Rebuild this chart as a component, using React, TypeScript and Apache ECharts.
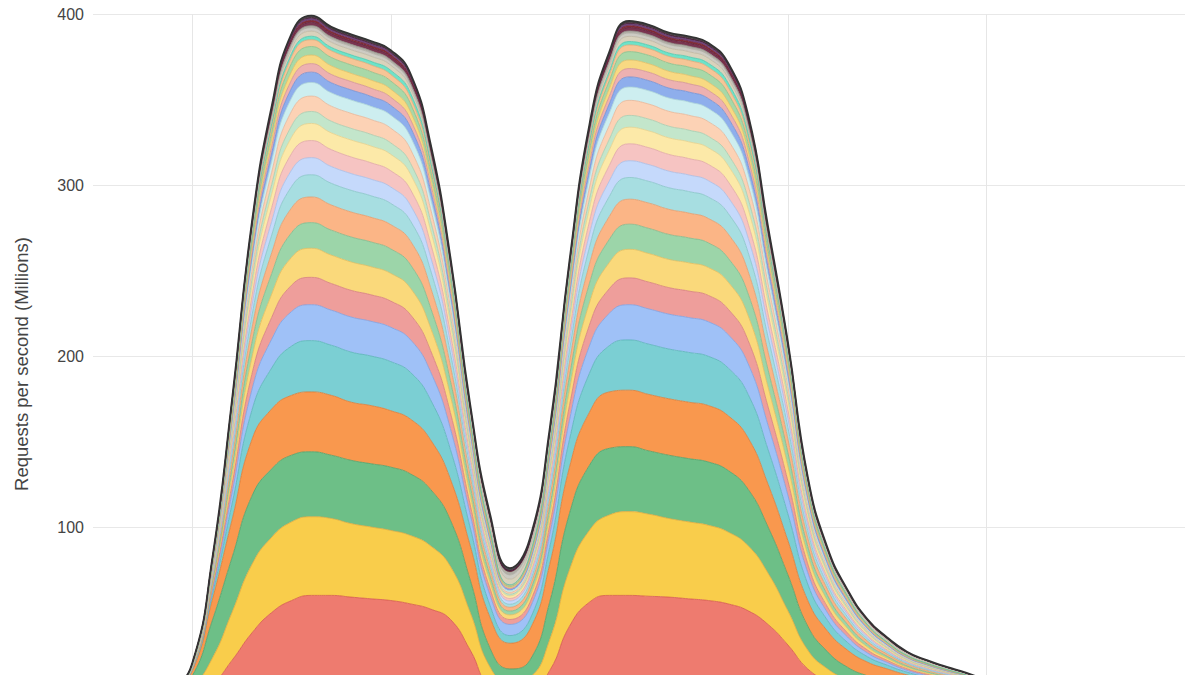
import React, { useEffect, useRef } from "react";
import * as echarts from "echarts";

// x positions (axis units; one unit = distance between vertical grid lines)
const XS = [
  -0.2, -0.1, 0, 0.1, 0.2, 0.3, 0.4, 0.5, 0.6, 0.7,
  0.8, 0.9, 1.0, 1.1, 1.2, 1.3, 1.4, 1.5, 1.6, 1.7,
  1.8, 1.9, 2.0, 2.1, 2.2, 2.3, 2.4, 2.5, 2.6, 2.7,
  2.8, 2.9, 3.0, 3.1, 3.2, 3.3, 3.4, 3.5, 3.6, 3.7,
  3.8, 3.9, 4.0, 4.1, 4.2, 4.3, 4.4,
];
// full category extent of the x axis (left edge to right edge)
const X_START = -0.5;
const X_END = 5.0;
const X_STEP = 0.1;
const X_GRID = [0, 1, 2, 3, 4];

const Y_TICKS = [0, 100, 200, 300, 400];
const Y_NAME = "Requests per second (Millions)";

// series values, bottom of the stack first (millions of requests per second)
const red = [
  0, 0.5, 2, 8, 22, 38, 50, 57, 60, 60,
  59, 58, 57, 55, 52, 46, 28, 7, 4, 4,
  16, 42, 56, 60, 60, 59.5, 59, 58, 57, 55,
  51, 43, 31, 17, 10, 6, 4.5, 3.5, 2.5, 2,
  1.5, 1, 0.7, 0.3, 0.1, 0, 0,
];
const yellow = [
  0, 1, 5, 15, 28, 40, 44, 46, 46, 45,
  43, 42, 41, 40, 37, 31, 22, 11, 5, 8,
  18, 33, 42, 47, 49, 48, 46, 45, 44, 42,
  38, 30, 20, 11, 7, 5, 3.5, 2.5, 2, 1.5,
  1.2, 1, 0.7, 0.3, 0.1, 0, 0,
];
const green = [
  0, 1.5, 6, 22, 32, 40, 40, 39, 38, 37,
  37, 37, 37, 36, 33, 27, 19, 11, 8, 10,
  22, 33, 38, 39, 38, 37, 37, 37, 37, 36,
  33, 27, 21, 14, 10, 7, 5, 4, 3, 2.5,
  2, 1.5, 1, 0.5, 0.2, 0, 0,
];
const orange = [
  0, 1, 3, 12, 22, 33, 35, 35, 35, 35,
  34, 34, 33, 32, 29, 24, 20, 18, 15, 18,
  22, 27, 31, 33, 33, 33, 33, 33, 33, 32,
  30, 25, 20, 15, 12, 10, 8, 7, 6, 5,
  4.5, 4, 3, 1.5, 0.6, 0.1, 0,
];
const teal = [
  0.1, 0.1, 0.5, 3, 9.3, 17.1, 24, 28.8, 30, 29.3,
  29.3, 29, 28.7, 27.3, 23.4, 17.4, 10.5, 7, 4.5, 5.8,
  10, 16.2, 22.8, 27, 29.4, 29.4, 29.1, 29.1, 28.8, 27.9,
  25.5, 20.3, 15.6, 9.6, 6.3, 4.5, 3.2, 2.2, 1.6, 1.3,
  1.1, 0.8, 0.5, 0.3, 0.1, 0, 0,
];
const blue = [
  0, 0.1, 0.3, 2.1, 6.5, 12, 16.8, 20.2, 21, 20.5,
  20.5, 20.3, 20.1, 19.1, 16.4, 12.2, 7.8, 6, 6.5, 6.5,
  7.5, 11.3, 16, 18.9, 20.6, 20.6, 20.4, 20.4, 20.2, 19.5,
  17.9, 14.2, 10.9, 6.7, 4.4, 3.2, 2.2, 1.6, 1.1, 0.9,
  0.7, 0.6, 0.4, 0.2, 0.1, 0, 0,
];
const salmon = [
  0, 0.1, 0.2, 1.6, 5, 9.1, 12.8, 15.4, 16, 15.6,
  15.6, 15.5, 15.3, 14.6, 12.5, 9.3, 5.6, 3.8, 2.9, 3.4,
  5.4, 8.6, 12.2, 14.4, 15.7, 15.7, 15.5, 15.5, 15.4, 14.9,
  13.6, 10.8, 8.3, 5.1, 3.4, 2.4, 1.7, 1.2, 0.9, 0.7,
  0.6, 0.4, 0.3, 0.1, 0.1, 0, 0,
];
const yellow2 = [
  0, 0.1, 0.3, 1.7, 5.3, 9.7, 13.6, 16.3, 17, 16.6,
  16.6, 16.4, 16.2, 15.5, 13.3, 9.9, 6, 4.1, 2.7, 3.4,
  5.7, 9.2, 12.9, 15.3, 16.7, 16.7, 16.5, 16.5, 16.3, 15.8,
  14.5, 11.5, 8.8, 5.4, 3.6, 2.6, 1.8, 1.3, 0.9, 0.7,
  0.6, 0.5, 0.3, 0.2, 0.1, 0, 0,
];
const green2 = [
  0, 0.1, 0.2, 1.5, 4.7, 8.6, 12, 14.4, 15, 14.6,
  14.6, 14.5, 14.3, 13.7, 11.7, 8.7, 5.3, 3.6, 2.2, 3,
  5, 8.1, 11.4, 13.5, 14.7, 14.7, 14.6, 14.6, 14.4, 14,
  12.8, 10.1, 7.8, 4.8, 3.2, 2.3, 1.6, 1.1, 0.8, 0.7,
  0.5, 0.4, 0.3, 0.1, 0.1, 0, 0,
];
const orange2 = [
  0, 0.1, 0.2, 1.4, 4.5, 8.4, 12.1, 14.5, 15, 14.7,
  14.6, 14.4, 14.2, 13.8, 11.9, 8.8, 5.4, 3.7, 2.2, 2.9,
  4.9, 8, 11.2, 13.4, 14.6, 14.8, 14.7, 14.5, 14.3, 14.1,
  13, 10.4, 8, 5, 3.4, 2.5, 1.8, 1.3, 1, 0.8,
  0.6, 0.5, 0.3, 0.2, 0.1, 0, 0,
];
const teal2 = [
  0, 0.1, 0.2, 1.3, 4, 7.4, 10.4, 12.5, 13, 12.7,
  12.7, 12.6, 12.4, 11.8, 10.1, 7.5, 4.6, 3.1, 1.8, 2.5,
  4.4, 7, 9.9, 11.7, 12.7, 12.7, 12.6, 12.6, 12.5, 12.1,
  11.1, 8.8, 6.8, 4.2, 2.7, 2, 1.4, 1, 0.7, 0.6,
  0.5, 0.4, 0.2, 0.1, 0.1, 0, 0,
];
const lightBlue = [
  0, 0, 0.2, 1, 3.1, 5.7, 8, 9.6, 10, 9.8,
  9.8, 9.7, 9.6, 9.1, 7.8, 5.8, 3.5, 2.4, 1.9, 2.1,
  3.4, 5.4, 7.6, 9, 9.8, 9.8, 9.7, 9.7, 9.6, 9.3,
  8.5, 6.8, 5.2, 3.2, 2.1, 1.5, 1.1, 0.7, 0.5, 0.4,
  0.4, 0.3, 0.2, 0.1, 0, 0, 0,
];
const pink = [
  0, 0, 0.2, 1, 3, 5.6, 8.1, 9.7, 10, 9.9,
  9.7, 9.6, 9.5, 9.2, 7.9, 5.9, 3.6, 2.4, 1.5, 2,
  3.3, 5.3, 7.5, 9.1, 9.9, 9.9, 9.8, 9.6, 9.5, 9.2,
  8.4, 6.7, 5.1, 3.1, 2, 1.4, 1, 0.7, 0.5, 0.4,
  0.3, 0.3, 0.2, 0.1, 0, 0, 0,
];
const lightYellow = [
  0, 0, 0.2, 1.1, 3.2, 5.8, 7.9, 9.5, 10, 9.8,
  9.9, 9.8, 9.6, 9, 7.7, 5.7, 3.5, 2.3, 1.5, 2.1,
  3.4, 5.5, 7.7, 9, 9.7, 9.8, 9.7, 9.8, 9.7, 9.4,
  8.6, 6.9, 5.3, 3.3, 2.2, 1.5, 1.1, 0.8, 0.6, 0.5,
  0.4, 0.3, 0.2, 0.1, 0, 0, 0,
];
const lightGreen = [
  0, 0, 0.1, 0.7, 2.2, 4, 5.6, 6.7, 7, 6.8,
  6.8, 6.8, 6.7, 6.4, 5.5, 4.1, 2.5, 1.7, 1, 1.4,
  2.3, 3.8, 5.3, 6.3, 6.9, 6.9, 6.8, 6.8, 6.7, 6.5,
  6, 4.7, 3.6, 2.2, 1.5, 1.1, 0.7, 0.5, 0.4, 0.3,
  0.2, 0.2, 0.1, 0.1, 0, 0, 0,
];
const lightPeach = [
  0, 0, 0.1, 0.9, 2.8, 5.1, 7.2, 8.6, 9, 8.8,
  8.8, 8.7, 8.6, 8.2, 7, 5.2, 3.2, 2.2, 1.1, 1.7,
  3, 4.9, 6.8, 8.1, 8.8, 8.8, 8.7, 8.7, 8.6, 8.4,
  7.7, 6.1, 4.7, 2.9, 1.9, 1.4, 0.9, 0.7, 0.5, 0.4,
  0.3, 0.3, 0.2, 0.1, 0, 0, 0,
];
const lightCyan = [
  0, 0, 0.1, 0.8, 2.5, 4.6, 6.4, 7.7, 8, 7.8,
  7.8, 7.7, 7.6, 7.3, 6.2, 4.6, 2.8, 1.9, 1, 1.5,
  2.7, 4.3, 6.1, 7.2, 7.8, 7.8, 7.8, 7.8, 7.7, 7.4,
  6.8, 5.4, 4.2, 2.6, 1.7, 1.2, 0.8, 0.6, 0.4, 0.4,
  0.3, 0.2, 0.1, 0.1, 0, 0, 0,
];
const midBlue = [
  0, 0, 0.1, 0.6, 1.9, 3.4, 4.8, 5.8, 6, 5.9,
  5.9, 5.8, 5.7, 5.5, 4.7, 3.5, 2.1, 1.4, 0.8, 1.2,
  2, 3.2, 4.6, 5.4, 5.9, 5.9, 5.8, 5.8, 5.8, 5.6,
  5.1, 4.1, 3.1, 1.9, 1.3, 0.9, 0.6, 0.4, 0.3, 0.3,
  0.2, 0.2, 0.1, 0.1, 0, 0, 0,
];
const pink2 = [
  0, 0, 0.1, 0.5, 1.6, 2.9, 4, 4.8, 5, 4.9,
  4.9, 4.8, 4.8, 4.6, 3.9, 2.9, 1.8, 1.2, 0.6, 1,
  1.7, 2.7, 3.8, 4.5, 4.9, 4.9, 4.9, 4.9, 4.8, 4.7,
  4.3, 3.4, 2.6, 1.6, 1.1, 0.8, 0.5, 0.4, 0.3, 0.2,
  0.2, 0.1, 0.1, 0, 0, 0, 0,
];
const yellow3 = [
  0, 0, 0.1, 0.5, 1.5, 2.8, 4.1, 4.9, 5, 5,
  4.8, 4.8, 4.7, 4.5, 3.8, 2.8, 1.7, 1.2, 0.6, 0.9,
  1.6, 2.6, 3.7, 4.5, 5, 5, 4.9, 4.8, 4.8, 4.6,
  4.2, 3.3, 2.5, 1.5, 1, 0.7, 0.5, 0.4, 0.3, 0.2,
  0.2, 0.1, 0.1, 0, 0, 0, 0,
];
const green3 = [
  0, 0, 0.1, 0.5, 1.6, 3, 4.1, 4.8, 5, 4.9,
  4.9, 4.9, 4.8, 4.7, 4, 3, 1.8, 1.3, 0.6, 1,
  1.8, 2.8, 3.9, 4.6, 4.9, 4.9, 4.8, 4.9, 4.9, 4.8,
  4.4, 3.5, 2.7, 1.7, 1.1, 0.8, 0.6, 0.4, 0.3, 0.2,
  0.2, 0.1, 0.1, 0, 0, 0, 0,
];
const peach3 = [
  0, 0, 0.1, 0.4, 1.2, 2.3, 3.2, 3.8, 4, 3.9,
  3.9, 3.9, 3.8, 3.6, 3.1, 2.3, 1.4, 1, 0.5, 0.7,
  1.3, 2.2, 3, 3.6, 3.9, 3.9, 3.9, 3.9, 3.8, 3.7,
  3.4, 2.7, 2.1, 1.3, 0.8, 0.6, 0.4, 0.3, 0.2, 0.2,
  0.1, 0.1, 0.1, 0, 0, 0, 0,
];
const turquoise = [
  0, 0, 0, 0.2, 0.6, 1.1, 1.6, 1.9, 2, 2,
  2, 2.1, 2.4, 2.6, 2, 1.2, 0.7, 0.5, 0.3, 0.4,
  0.7, 1.1, 1.5, 1.8, 2, 2, 2, 2.1, 2.3, 2.6,
  2.2, 1.4, 1, 0.6, 0.4, 0.3, 0.2, 0.1, 0.1, 0.1,
  0.1, 0.1, 0, 0, 0, 0, 0,
];
const beige = [
  0, 0.2, 0.5, 1.1, 1.8, 2.4, 2.8, 2.9, 3, 3,
  3, 3, 3, 2.9, 2.8, 2.6, 2.8, 3.2, 3.3, 3.2,
  2.9, 2.6, 2.8, 2.9, 3, 3, 3, 3, 3, 2.9,
  2.8, 2.6, 2.3, 1.8, 1.5, 1.3, 1.1, 1, 0.8, 0.7,
  0.6, 0.5, 0.4, 0.2, 0.1, 0, 0,
];
const lightGrey = [
  0, 0.1, 0.3, 0.7, 1.2, 1.6, 1.8, 2, 2, 2,
  2, 2, 2, 1.9, 1.8, 1.7, 2, 2.4, 2.5, 2.4,
  2.1, 1.7, 1.9, 2, 2, 2, 2, 2, 2, 2,
  1.9, 1.7, 1.5, 1.2, 1, 0.8, 0.7, 0.6, 0.6, 0.5,
  0.4, 0.3, 0.3, 0.2, 0.1, 0, 0,
];
const grey = [
  0, 0.1, 0.2, 0.4, 0.7, 1, 1.1, 1.2, 1.2, 1.2,
  1.2, 1.2, 1.2, 1.2, 1.1, 1, 1.3, 1.7, 1.8, 1.7,
  1.4, 1, 1.1, 1.2, 1.2, 1.2, 1.2, 1.2, 1.2, 1.2,
  1.1, 1, 0.9, 0.7, 0.6, 0.5, 0.4, 0.4, 0.3, 0.3,
  0.2, 0.2, 0.2, 0.1, 0, 0, 0,
];
const maroon = [
  0, 0, 0, 0.2, 0.6, 1.1, 1.6, 1.9, 2, 2,
  2, 1.9, 1.9, 1.8, 1.6, 1.2, 0.7, 0.5, 0.3, 0.4,
  0.7, 1.1, 1.5, 1.8, 2, 2, 1.9, 1.9, 1.9, 1.9,
  1.7, 1.4, 1, 0.6, 0.4, 0.3, 0.2, 0.1, 0.1, 0.1,
  0.1, 0.1, 0, 0, 0, 0, 0,
];
const darkRed = [
  0, 0, 0, 0.1, 0.3, 0.6, 0.8, 1, 1, 1,
  1, 1, 1, 0.9, 0.8, 0.6, 0.4, 0.2, 0.2, 0.2,
  0.3, 0.5, 0.8, 0.9, 1, 1, 1, 1, 1, 0.9,
  0.9, 0.7, 0.5, 0.3, 0.2, 0.2, 0.1, 0.1, 0.1, 0,
  0, 0, 0, 0, 0, 0, 0,
];
const purple = [
  0, 0, 0, 0.1, 0.3, 0.5, 0.8, 0.9, 1, 1,
  1, 1, 1, 1, 0.8, 0.6, 0.3, 0.2, 0.2, 0.2,
  0.3, 0.5, 0.7, 0.9, 1, 1, 1, 1, 1, 1,
  0.9, 0.7, 0.5, 0.3, 0.2, 0.1, 0.1, 0.1, 0, 0,
  0, 0, 0, 0, 0, 0, 0,
];
const plum = [
  0, 0, 0, 0.1, 0.2, 0.4, 0.6, 0.8, 0.8, 0.8,
  0.8, 0.8, 0.8, 0.7, 0.6, 0.5, 0.3, 0.2, 0.1, 0.2,
  0.3, 0.4, 0.6, 0.7, 0.8, 0.8, 0.8, 0.8, 0.8, 0.8,
  0.7, 0.6, 0.4, 0.3, 0.2, 0.1, 0.1, 0.1, 0, 0,
  0, 0, 0, 0, 0, 0, 0,
];
const charcoal = [
  0, 0.1, 0.2, 0.4, 0.6, 0.8, 0.9, 1, 1, 1,
  1, 1, 1, 1, 0.9, 0.9, 1, 1.3, 1.4, 1.3,
  1.1, 0.9, 0.9, 1, 1, 1, 1, 1, 1, 1,
  0.9, 0.9, 0.8, 0.6, 0.5, 0.4, 0.4, 0.3, 0.3, 0.2,
  0.2, 0.2, 0.1, 0.1, 0, 0, 0,
];

const SERIES: [string, number[], string, string][] = [
  ["red", red, "#EE7B6F", "#D4574A"],
  ["yellow", yellow, "#F9CD4B", "#E2A93B"],
  ["green", green, "#6DBF87", "#4E9F68"],
  ["orange", orange, "#F9984E", "#DC7A34"],
  ["teal", teal, "#7BCFD3", "#58B2B6"],
  ["blue", blue, "#9FC1F7", "#7C9EE0"],
  ["salmon", salmon, "#EE9E9B", "#D67E7A"],
  ["yellow2", yellow2, "#FAD97B", "#E2BC5C"],
  ["green2", green2, "#9CD5A9", "#7DB98B"],
  ["orange2", orange2, "#FBB586", "#E39A69"],
  ["teal2", teal2, "#A7DEE1", "#86C4C7"],
  ["lightBlue", lightBlue, "#C5D9FB", "#A6BDE6"],
  ["pink", pink, "#F6C4C2", "#DFA6A4"],
  ["lightYellow", lightYellow, "#FCE9A8", "#E6D08A"],
  ["lightGreen", lightGreen, "#C3E6CB", "#A4CCAE"],
  ["lightPeach", lightPeach, "#FCD2B5", "#E6B597"],
  ["lightCyan", lightCyan, "#CDEEF0", "#ACD5D8"],
  ["midBlue", midBlue, "#8EAEEC", "#6F8FD4"],
  ["pink2", pink2, "#EDB1B1", "#D29292"],
  ["yellow3", yellow3, "#F8D982", "#DFBE64"],
  ["green3", green3, "#A8D8A8", "#89BE89"],
  ["peach3", peach3, "#F7C596", "#DDA877"],
  ["turquoise", turquoise, "#6EE3C9", "#4CC7AC"],
  ["beige", beige, "#D9D2BC", "#BDB59F"],
  ["lightGrey", lightGrey, "#CDCBC3", "#AFADA5"],
  ["grey", grey, "#B1AFA6", "#8F8D85"],
  ["maroon", maroon, "#7A3450", "#5A2038"],
  ["darkRed", darkRed, "#8E2F3A", "#6A1F28"],
  ["purple", purple, "#7A4A86", "#5A3066"],
  ["plum", plum, "#5A3348", "#3E2030"],
  ["charcoal", charcoal, "#505050", "#2E2E2E"],
];

export default function App() {
  const ref = useRef<HTMLDivElement>(null);
  useEffect(() => {
    if (!ref.current) return;
    const chart = echarts.init(ref.current, undefined, { renderer: "svg" });
    const nCats = Math.round((X_END - X_START) / X_STEP) + 1;
    const cats: string[] = [];
    for (let k = 0; k < nCats; k++) cats.push((X_START + k * X_STEP).toFixed(1));
    const gridLabels = X_GRID.map((v) => v.toFixed(1));
    const last = SERIES.length - 1;
    const font = "Liberation Sans, Arial, Helvetica, sans-serif";
    chart.setOption({
      animation: false,
      backgroundColor: "#ffffff",
      grid: { left: 93, right: 15, top: 14, bottom: 62 },
      xAxis: {
        type: "category",
        data: cats,
        boundaryGap: false,
        axisLine: { show: false },
        axisTick: { show: false },
        axisLabel: { show: false },
        splitLine: {
          show: true,
          interval: (_i: number, v: string) => gridLabels.indexOf(v) >= 0,
          lineStyle: { color: "#E6E6E6", width: 1 },
        },
      },
      yAxis: {
        type: "value",
        min: Y_TICKS[0],
        max: Y_TICKS[Y_TICKS.length - 1],
        interval: Y_TICKS[1] - Y_TICKS[0],
        name: Y_NAME,
        nameLocation: "middle",
        nameGap: 62,
        nameTextStyle: {
          fontSize: 18.5,
          color: "#444",
          fontFamily: font,
          padding: [0, 16, 0, 0],
        },
        axisLine: { show: false },
        axisTick: { show: false },
        axisLabel: {
          fontSize: 16,
          color: "#444",
          margin: 9,
          showMinLabel: false,
          fontFamily: font,
        },
        splitLine: { lineStyle: { color: "#E8E8E8", width: 1 } },
      },
      series: SERIES.map(([name, vals, fill, line], i) => ({
        name,
        type: "line",
        stack: "total",
        smooth: true,
        symbol: "none",
        data: cats.map((c) => {
          const j = XS.findIndex((x) => x.toFixed(1) === c);
          return j >= 0 ? vals[j] : 0;
        }),
        lineStyle: {
          color: i === last ? "#333333" : line,
          width: i === last ? 1.8 : 0.8,
        },
        areaStyle: { color: fill, opacity: 1 },
      })),
    });
    return () => chart.dispose();
  }, []);
  return (
    <div
      ref={ref}
      style={{ position: "fixed", left: 0, top: 0, width: 1200, height: 760 }}
    />
  );
}
